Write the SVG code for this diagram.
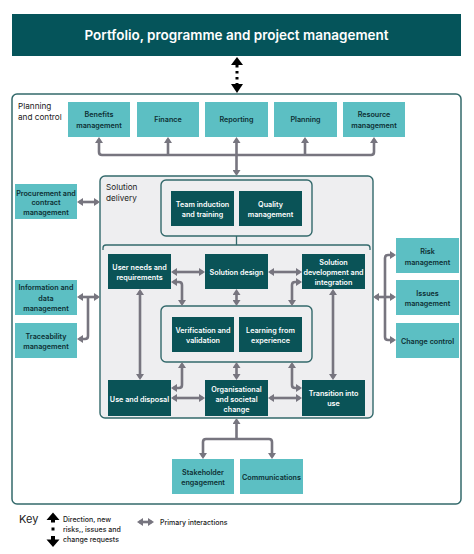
<svg xmlns="http://www.w3.org/2000/svg" width="474" height="554" viewBox="0 0 474 554">
<defs>
<style>
.dk{fill:#0a5357}
.lt{fill:#5cbfc3}
.frame{fill:#fff;stroke:#33696b;stroke-width:1.5}
.grey{fill:#eeeef0;stroke:#33696b;stroke-width:1.4}
.w{fill:#fff;font-family:Inter,"Liberation Sans",sans-serif;font-weight:600;font-size:7.2px;text-anchor:middle}
.b{fill:#0d2f33;font-family:Inter,"Liberation Sans",sans-serif;font-weight:600;font-size:7.2px;text-anchor:middle}
.lab{fill:#222;font-family:Inter,"Liberation Sans",sans-serif;font-weight:400;font-size:8.2px}
.key{fill:#222;font-family:Inter,"Liberation Sans",sans-serif;font-weight:500;font-size:7px}
.c{fill:none;stroke:#77757f;stroke-width:2.6;marker-start:url(#a);marker-end:url(#a)}
.c1{fill:none;stroke:#77757f;stroke-width:2.6;marker-end:url(#a)}
.c0{fill:none;stroke:#77757f;stroke-width:2.6}
</style>
<marker id="a" viewBox="0 0 6 8" refX="4" refY="4" markerWidth="6" markerHeight="8" markerUnits="userSpaceOnUse" orient="auto-start-reverse">
<path d="M0,0 L6,4 L0,8 z" fill="#77757f"/>
</marker>
</defs>
<rect width="474" height="554" fill="#fff"/>

<g id="ppm">
<rect x="12" y="14" width="449" height="42" fill="#05545a"/>
<text x="236.5" y="40" fill="#fff" font-family="Inter,'Liberation Sans',sans-serif" font-weight="600" font-size="13.5" text-anchor="middle">Portfolio, programme and project management</text>
</g>

<g id="direction-arrow">
<path d="M237,57 L243,65 L231,65 z" fill="#000"/>
<line x1="237" y1="65" x2="237" y2="84" stroke="#000" stroke-width="3" stroke-dasharray="2.5,3.5"/>
<path d="M237,93 L243,84 L231,84 z" fill="#000"/>
</g>

<g id="planning-and-control">
<rect class="frame" x="12" y="94" width="449" height="410" rx="5"/>
<text class="lab" x="18" y="109">Planning</text>
<text class="lab" x="18" y="120">and control</text>
</g>

<g id="solution-delivery">
<rect class="grey" x="100" y="176" width="273" height="242" rx="5"/>
<text class="lab" x="106" y="190">Solution</text>
<text class="lab" x="106" y="201">delivery</text>
</g>

<g id="group-team">
<rect class="grey" x="161" y="180" width="151" height="56" rx="5"/>
</g>
<g id="group-verification">
<rect class="grey" x="161" y="306" width="151" height="56" rx="5"/>
</g>

<g id="benefits"><rect class="lt" x="68" y="102" width="62" height="35"/><text class="b" x="99" y="117">Benefits</text><text class="b" x="99" y="127.5">management</text></g>
<g id="finance"><rect class="lt" x="137" y="102" width="62" height="35"/><text class="b" x="168" y="122">Finance</text></g>
<g id="reporting"><rect class="lt" x="205" y="102" width="63" height="35"/><text class="b" x="236.5" y="122">Reporting</text></g>
<g id="planning"><rect class="lt" x="274" y="102" width="63" height="35"/><text class="b" x="305.5" y="122">Planning</text></g>
<g id="resource"><rect class="lt" x="343" y="102" width="62" height="35"/><text class="b" x="374" y="117">Resource</text><text class="b" x="374" y="127.5">management</text></g>

<g id="procurement"><rect class="lt" x="15" y="184" width="62" height="35"/><text class="b" x="46" y="195.5">Procurement and</text><text class="b" x="46" y="205">contract</text><text class="b" x="46" y="215">management</text></g>
<g id="information"><rect class="lt" x="15" y="280" width="62" height="35"/><text class="b" x="46" y="290">Information and</text><text class="b" x="46" y="300.5">data</text><text class="b" x="46" y="310.5">management</text></g>
<g id="traceability"><rect class="lt" x="15" y="323" width="62" height="35"/><text class="b" x="46" y="338.5">Traceability</text><text class="b" x="46" y="348.5">management</text></g>

<g id="risk"><rect class="lt" x="396" y="238" width="63" height="35"/><text class="b" x="427.5" y="253.5">Risk</text><text class="b" x="427.5" y="264.5">management</text></g>
<g id="issues"><rect class="lt" x="396" y="280" width="63" height="35"/><text class="b" x="427.5" y="295.5">Issues</text><text class="b" x="427.5" y="305.5">management</text></g>
<g id="change-control"><rect class="lt" x="396" y="323" width="63" height="35"/><text class="b" x="427.5" y="343.5">Change control</text></g>

<g id="team-induction"><rect class="dk" x="171" y="191" width="63" height="35"/><text class="w" x="202.5" y="206.5">Team induction</text><text class="w" x="202.5" y="216.5">and training</text></g>
<g id="quality"><rect class="dk" x="239" y="191" width="63" height="35"/><text class="w" x="270.5" y="206.5">Quality</text><text class="w" x="270.5" y="216.5">management</text></g>

<g id="user-needs"><rect class="dk" x="108" y="254" width="63" height="35"/><text class="w" x="139.5" y="269.5">User needs and</text><text class="w" x="139.5" y="279.5">requirements</text></g>
<g id="solution-design"><rect class="dk" x="205" y="254" width="63" height="35"/><text class="w" x="236.5" y="274.5">Solution design</text></g>
<g id="solution-development"><rect class="dk" x="302" y="254" width="63" height="35"/><text class="w" x="333.5" y="264.5">Solution</text><text class="w" x="333.5" y="274.5">development and</text><text class="w" x="333.5" y="284.5">integration</text></g>

<g id="verification"><rect class="dk" x="172" y="317" width="62" height="35"/><text class="w" x="203" y="332.5">Verification and</text><text class="w" x="203" y="343">validation</text></g>
<g id="learning"><rect class="dk" x="239" y="317" width="63" height="35"/><text class="w" x="270.5" y="332.5">Learning from</text><text class="w" x="270.5" y="343">experience</text></g>

<g id="use-disposal"><rect class="dk" x="108" y="380" width="63" height="36"/><text class="w" x="139.5" y="401.5">Use and disposal</text></g>
<g id="organisational"><rect class="dk" x="205" y="380" width="63" height="36"/><text class="w" x="236.5" y="391.5">Organisational</text><text class="w" x="236.5" y="401.5">and societal</text><text class="w" x="236.5" y="411.5">change</text></g>
<g id="transition"><rect class="dk" x="302" y="380" width="63" height="36"/><text class="w" x="333.5" y="395.5">Transition into</text><text class="w" x="333.5" y="406">use</text></g>

<g id="stakeholder"><rect class="lt" x="172" y="459" width="62" height="35"/><text class="b" x="203" y="474.5">Stakeholder</text><text class="b" x="203" y="484.5">engagement</text></g>
<g id="communications"><rect class="lt" x="240" y="459" width="63" height="35"/><text class="b" x="271.5" y="479.5">Communications</text></g>

<g id="connectors">
<path class="c" d="M99,139 V152 Q99,155 102,155 H371 Q374,155 374,152 V139"/>
<path class="c1" d="M168,155 V139"/>
<path class="c1" d="M305,155 V139"/>
<path class="c" d="M236.5,139 V174"/>
<path class="c" d="M79,202 H98"/>
<path class="c" d="M79,297 H98"/>
<path class="c1" d="M88,297 V336 Q88,339 85,339 H79"/>
<path class="c" d="M375,297 H394"/>
<path class="c" d="M394,255 H388 Q385,255 385,258 V337 Q385,340 388,340 H394"/>
<path class="c1" d="M236.5,439 V420"/>
<path class="c" d="M203,457 V442 Q203,439 206,439 H269 Q272,439 272,442 V457"/>
<path d="M236.5,236 V245 M103,250 V248 Q103,245 106,245 H367 Q370,245 370,248 V250" fill="none" stroke="#33696b" stroke-width="1.3"/>
<path class="c" d="M173,272 H203"/>
<path class="c" d="M270,272 H300"/>
<path class="c" d="M173,282 H179 Q182,282 182,285 V304"/>
<path class="c" d="M236.5,291 V304"/>
<path class="c" d="M300,282 H295 Q292,282 292,285 V304"/>
<path class="c" d="M140,291 V378"/>
<path class="c" d="M333,291 V378"/>
<path class="c" d="M173,398 H203"/>
<path class="c" d="M270,398 H300"/>
<path class="c" d="M182,364 V385 Q182,388 179,388 H173"/>
<path class="c" d="M236.5,364 V378"/>
<path class="c" d="M292,364 V385 Q292,388 295,388 H300"/>
</g>

<g id="key">
<text x="19" y="523" fill="#222" font-family="Inter,'Liberation Sans',sans-serif" font-size="11">Key</text>
<path d="M53,512.5 L59.5,520 L55,520 L55,522.5 L51,522.5 L51,520 L46.5,520 z" fill="#000"/>
<rect x="51.5" y="527.5" width="3" height="3" fill="#000"/>
<path d="M53,547 L59.5,539.5 L55,539.5 L55,536 L51,536 L51,539.5 L46.5,539.5 z" fill="#000"/>
<text class="key" x="63" y="521.5">Direction, new</text>
<text class="key" x="63" y="531.5">risks,, issues and</text>
<text class="key" x="63" y="541.5">change requests</text>
<path class="c" d="M139,522 H152"/>
<text class="key" x="160" y="524.5">Primary interactions</text>
</g>
</svg>
